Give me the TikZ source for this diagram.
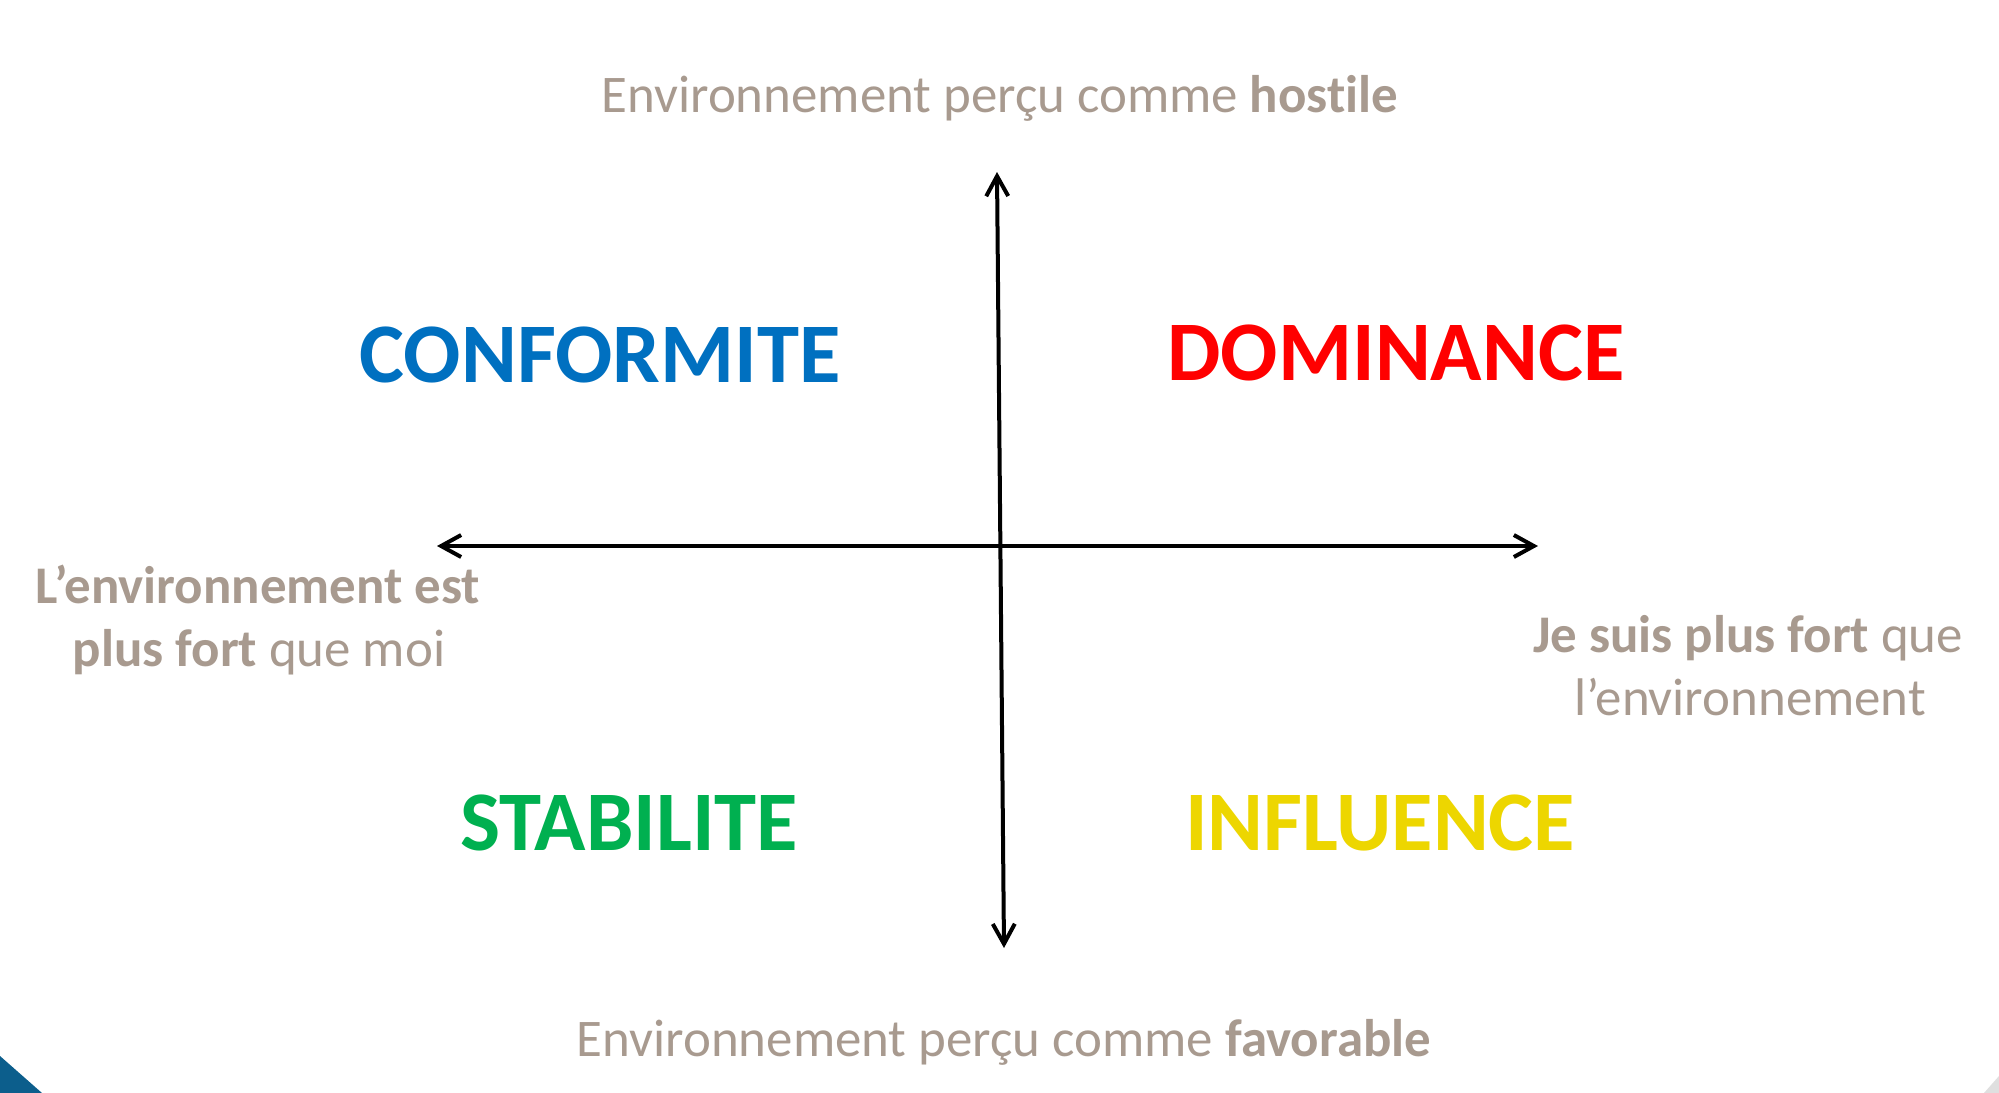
\documentclass[tikz,border=0pt]{standalone}
\usepackage{fontspec}
\setmainfont{Carlito}[Ligatures=NoCommon]
\usetikzlibrary{arrows.meta}
\definecolor{taupe}{RGB}{168,154,143}
\definecolor{confblue}{RGB}{0,112,192}
\definecolor{domred}{RGB}{255,0,0}
\definecolor{stabgreen}{RGB}{0,176,80}
\definecolor{inflyellow}{RGB}{237,214,0}
\definecolor{cornerblue}{RGB}{12,94,140}
\begin{document}
\begin{tikzpicture}[x=0.5pt,y=-0.5pt,
  axis/.style={line width=2pt,{Straight Barb[length=10pt,width=11pt]}-{Straight Barb[length=10pt,width=11pt]}},
  note/.style={text=taupe,font=\fontsize{26.45}{32}\selectfont,inner sep=0pt,anchor=base},
  big/.style={font=\fontsize{42.4}{50}\selectfont\bfseries,inner sep=0pt,anchor=base}]
\fill[white] (0,0) rectangle (1999,1093);
\useasboundingbox (0,0) rectangle (1999,1093);
% corner decorations
\fill[cornerblue] (0,1056) -- (42,1093) -- (0,1093) -- cycle;
\fill[gray!25] (1999,1076) -- (1999,1093) -- (1984,1093) -- cycle;
% axes
\coordinate (ntip) at (997,172);
\coordinate (stip) at (1004,948);
\coordinate (wtip) at (437,546);
\coordinate (etip) at (1538,546);
\draw[axis] (wtip) -- (etip);
\draw[axis] (ntip) -- (stip);
% texts
\node[note] (toplbl) at (1000,112) {Environnement perçu comme \textbf{hostile}};
\node[note] (botlbl) at (1004,1056) {Environnement perçu comme \textbf{favorable}};
\node[big,text=confblue] (conf) at (600,382) {CONFORMITE};
\node[big,text=domred] (dom) at (1396,380) {DOMINANCE};
\node[big,text=stabgreen] (stab) at (629,850) {STABILITE};
\node[big,text=inflyellow] (infl) at (1380,850) {INFLUENCE};
\node[note] (leftA) at (258,603) {\textbf{L’environnement est}};
\node[note] (leftB) at (259,666) {\textbf{plus fort} que moi};
\node[note] (rightA) at (1748,652) {\textbf{Je suis plus fort} que};
\node[note] (rightB) at (1750,715) {l’environnement};
\end{tikzpicture}
\end{document}
